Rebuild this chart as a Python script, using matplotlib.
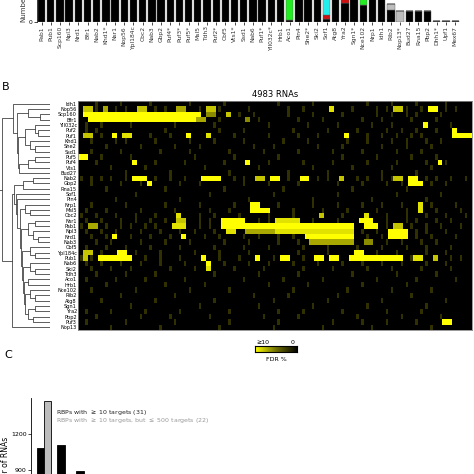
import numpy as np
import matplotlib.pyplot as plt
from matplotlib.colors import LinearSegmentedColormap

# ---- panel A data ----
a_labels = ['Pab1', 'Pub1', 'Scp160', 'Npl3', 'Nrd1', 'Bfr1', 'Nab2', 'Khd1*', 'Nsr1', 'Nop56',
            'Ypl184c', 'Cbc2', 'Nab3', 'Gbp2', 'Puf4*', 'Puf3*', 'Puf5*', 'Msl5', 'Tdh3', 'Puf2*',
            'Cbf5', 'Vts1*', 'Ssd1', 'Nab6', 'Puf1*', 'Yll032c*', 'Hrb1', 'Aco1', 'Pin4', 'She2*',
            'Ski2', 'Sof1', 'Atg8', 'Yra2', 'Sgn1*', 'Nce102', 'Nrp1', 'Idh1', 'Rib2', 'Nop13*',
            'Bud27', 'Rna15', 'Pbp2', 'Dhh1*', 'Upf1', 'Mex67']
a_black = [1000] * 27 + [15, 1000, 1000, 1000, 21, 1000, 133, 1000, 120, 1000, 1000, 83, 0,
                         78, 78, 78, 3, 3, 3]
a_green = [0] * 27 + [1000] + [0] * 7 + [1000] + [0] * 10
a_red = [0] * 31 + [29, 0, 1000] + [0] * 12
a_cyan = [0] * 31 + [1000] + [0] * 14
a_gray = [0] * 38 + [45, 78] + [0] * 6

# ---- panel B data ----
rows = ['Idh1', 'Nop56', 'Scp160', 'Bfr1', 'Yll032c', 'Puf2', 'Puf1', 'Khd1', 'She2', 'Ssd1',
        'Puf5', 'Puf4', 'Vts1', 'Bud27', 'Nab2', 'Gbp2', 'Rna15', 'Sof1', 'Pin4', 'Nrp1',
        'Msl5', 'Cbc2', 'Nsr1', 'Pab1', 'Npl3', 'Nrd1', 'Nab3', 'Cbf5', 'Ypl184c', 'Pub1',
        'Nab6', 'Ski2', 'Tdh3', 'Aco1', 'Hrb1', 'Nce102', 'Rib2', 'Atg8', 'Sgn1', 'Yra2',
        'Pbp2', 'Puf3', 'Nop13']
n_cols = 80
# bright spans: (start, end, value)
bright = {
    'Nop56': [(1, 2, 0.8), (5, 5, 0.7), (12, 13, 0.8), (20, 21, 0.7), (26, 27, 0.8), (51, 51, 0.9),
              (64, 65, 0.8), (71, 72, 1.0)],
    'Scp160': [(1, 24, 1.0), (26, 27, 0.6), (30, 30, 0.8)],
    'Bfr1': [(2, 23, 1.0), (24, 25, 0.7), (34, 34, 0.6)],
    'Yll032c': [(70, 70, 1.0)],
    'Puf2': [(76, 76, 1.0)],
    'Puf1': [(1, 2, 0.8), (7, 7, 1.0), (9, 10, 0.9), (22, 22, 1.0), (26, 26, 0.9), (54, 54, 1.0),
             (76, 79, 1.0)],
    'Puf5': [(0, 1, 1.0)],
    'Puf4': [(11, 11, 1.0), (34, 34, 1.0), (73, 73, 1.0)],
    'Nab2': [(11, 13, 1.0), (25, 28, 1.0), (36, 37, 0.8), (39, 40, 1.0), (45, 46, 1.0),
             (53, 53, 0.8), (64, 65, 0.8), (67, 68, 1.0)],
    'Gbp2': [(14, 14, 1.0), (67, 69, 1.0)],
    'Nrp1': [(35, 36, 1.0), (69, 69, 0.9)],
    'Msl5': [(35, 38, 1.0), (69, 69, 0.9)],
    'Cbc2': [(20, 20, 0.9), (49, 49, 0.8), (58, 58, 0.9)],
    'Nsr1': [(20, 21, 0.8), (29, 33, 1.0), (40, 44, 0.9), (57, 59, 1.0)],
    'Pab1': [(2, 3, 0.7), (19, 21, 0.9), (29, 55, 1.0), (58, 60, 1.0), (64, 65, 0.8)],
    'Npl3': [(30, 31, 0.9), (34, 39, 0.7), (40, 55, 0.9), (63, 66, 1.0)],
    'Nrd1': [(7, 7, 1.0), (21, 21, 1.0), (46, 55, 1.0), (63, 66, 1.0)],
    'Nab3': [(47, 55, 0.7), (58, 59, 0.6)],
    'Ypl184c': [(1, 2, 0.8), (8, 9, 1.0), (56, 57, 1.0)],
    'Pub1': [(1, 1, 0.8), (4, 10, 1.0), (25, 25, 1.0), (36, 36, 1.0), (41, 42, 1.0), (48, 49, 1.0),
             (51, 52, 1.0), (55, 62, 1.0), (63, 65, 1.0), (68, 69, 0.9), (72, 72, 0.8)],
    'Nab6': [(26, 26, 1.0)],
    'Ski2': [(26, 26, 0.9)],
    'Puf3': [(74, 75, 1.0)],
}
# faint streaks: column indices
faint = {
    'Idh1': [3, 8, 14, 22, 29, 40, 47, 58, 63, 68, 74],
    'Nop56': [3, 7, 9, 15, 17, 24, 28, 34, 42, 45, 55, 60, 62, 66, 69, 74, 76],
    'Scp160': [32, 35, 42, 47, 53, 60, 63, 66, 68, 73],
    'Bfr1': [28, 36, 44, 49, 57, 61, 67, 72],
    'Yll032c': [1, 4, 10, 19, 27, 38, 46, 52, 59, 63, 75],
    'Puf2': [1, 3, 17, 28, 33, 43, 50, 56, 62, 65, 68, 72],
    'Puf1': [4, 14, 18, 31, 38, 44, 48, 58, 61, 64, 67, 69],
    'Khd1': [2, 7, 9, 15, 22, 27, 33, 41, 46, 54, 58, 63, 66, 70, 73],
    'She2': [5, 12, 19, 24, 35, 39, 48, 53, 61, 66, 71],
    'Ssd1': [2, 8, 16, 22, 30, 37, 44, 51, 57, 64, 69],
    'Puf5': [4, 10, 23, 31, 40, 53, 60, 67, 72],
    'Puf4': [3, 15, 21, 29, 38, 45, 51, 58, 64, 70, 74],
    'Vts1': [6, 13, 25, 36, 47, 55, 63, 71],
    'Bud27': [9, 18, 30, 42, 50, 61, 68],
    'Nab2': [0, 2, 4, 6, 9, 15, 18, 21, 31, 33, 42, 48, 50, 56, 58, 61, 63, 70, 72, 75, 78],
    'Gbp2': [2, 8, 12, 20, 24, 33, 38, 44, 52, 57, 62, 65, 71, 74],
    'Rna15': [5, 17, 29, 41, 55, 66],
    'Sof1': [11, 26, 39, 52, 64, 73],
    'Pin4': [7, 20, 34, 47, 59, 70],
    'Nrp1': [2, 9, 17, 24, 31, 40, 47, 52, 57, 61, 65, 71, 76],
    'Msl5': [1, 5, 12, 19, 26, 30, 43, 49, 54, 60, 66, 72, 77],
    'Cbc2': [0, 3, 7, 11, 15, 24, 27, 32, 38, 43, 53, 62, 66, 70, 74, 78],
    'Nsr1': [1, 4, 8, 11, 14, 17, 24, 26, 36, 38, 47, 52, 62, 66, 68, 72, 75],
    'Pab1': [0, 5, 8, 10, 13, 15, 24, 26, 62, 67, 70, 73, 77],
    'Npl3': [1, 4, 7, 12, 16, 20, 23, 27, 57, 60, 68, 70, 74],
    'Nrd1': [2, 5, 10, 14, 18, 25, 28, 33, 36, 40, 43, 58, 61, 68, 71, 76],
    'Nab3': [3, 6, 12, 17, 22, 29, 34, 40, 44, 62, 65, 69, 72],
    'Cbf5': [1, 5, 9, 14, 20, 27, 33, 38, 45, 50, 56, 61, 66, 70, 75],
    'Ypl184c': [4, 11, 16, 23, 28, 34, 44, 50, 60, 64, 70, 74],
    'Pub1': [0, 2, 13, 16, 20, 28, 32, 39, 45, 67, 75, 77],
    'Nab6': [1, 4, 8, 12, 16, 21, 29, 34, 38, 43, 48, 53, 57, 61, 65, 70, 74],
    'Ski2': [2, 6, 10, 18, 23, 31, 37, 45, 51, 58, 63, 69, 75],
    'Tdh3': [3, 9, 15, 27, 36, 44, 55, 64, 72],
    'Aco1': [1, 7, 13, 21, 33, 41, 49, 60, 68, 76],
    'Hrb1': [5, 17, 25, 38, 46, 57, 66],
    'Nce102': [2, 11, 22, 30, 43, 54, 63, 71],
    'Rib2': [8, 19, 35, 42, 52, 67],
    'Atg8': [4, 15, 27, 39, 50, 61, 74],
    'Sgn1': [10, 24, 36, 47, 58, 70],
    'Yra2': [1, 6, 13, 20, 30, 40, 45, 53, 62, 69],
    'Pbp2': [3, 12, 18, 26, 37, 44, 56, 65, 73],
    'Puf3': [1, 9, 19, 30, 40, 51, 57, 62, 68],
    'Nop13': [6, 16, 28, 39, 49, 59, 71],
}
# dendrogram: (height, left, right), leaves are row indices
top_tree = (0.74, 0, (0.66, (0.45, 1, (0.2, 2, 3)),
                      (0.64, (0.5, (0.3, 4, (0.25, 5, 6)), (0.4, 7, (0.3, 8, 9))),
                       (0.62, (0.45, (0.3, 10, 11), 12), 13))))
n38 = (0.45, (0.3, 38, 39), (0.35, 40, 41))
n35 = (0.5, (0.4, 35, (0.3, 36, 37)), n38)
n33 = (0.52, (0.45, 33, 34), n35)
n30 = (0.54, (0.4, 30, (0.3, 31, 32)), n33)
n27 = (0.56, (0.4, 27, (0.3, 28, 29)), n30)
n22 = (0.58, (0.45, (0.3, 22, 23), (0.35, 24, (0.25, 25, 26))), n27)
n19 = (0.6, (0.5, 19, (0.4, 20, 21)), n22)
n17 = (0.68, 17, (0.66, 18, n19))
n14 = (0.72, (0.55, (0.35, 14, 15), 16), n17)
tree = (0.97, top_tree, (0.76, n14, 42))

# ---- panel C data ----
c_pos = [1.3, 2.3, 4.1, 6.7]
c_vals = [1080, 1480, 1110, 890]
c_cols = ['black', '#bdbdbd', 'black', 'black']

fig = plt.figure(figsize=(4.74, 4.74), dpi=100)

# panel A
axA = fig.add_axes([0.078, 0.954, 0.892, 0.3])
x = np.arange(len(a_labels))
bottom = np.zeros(len(x))
for vals, col in [(a_black, 'black'), (a_gray, '#bdbdbd'), (a_red, '#d01010'),
                  (a_green, '#22ee22'), (a_cyan, '#22eeee')]:
    v = np.array(vals, float)
    axA.bar(x, v, 0.8, bottom=bottom, color=col, edgecolor='#555555', linewidth=0.3)
    bottom += v
axA.set_xlim(-0.5, len(x) - 0.5)
axA.set_ylim(0, 1000)
axA.set_yticks([0])
axA.set_xticks(x)
axA.set_xticklabels(a_labels, rotation=90, fontsize=4.3, color='#333333')
axA.tick_params(length=2, width=0.5, pad=1, labelsize=4.3)
axA.set_ylabel('Number', fontsize=5, color='#333333', labelpad=2, loc='bottom')
for s in ['top', 'right', 'bottom']:
    axA.spines[s].set_visible(False)
axA.spines['left'].set_linewidth(0.5)

fig.text(0.005, 0.81, 'B', fontsize=8)
fig.text(0.58, 0.795, '4983 RNAs', fontsize=6, ha='center')

# panel B heatmap: each column is drawn as two sub-columns so faint streaks stay thin
mat = np.zeros((len(rows), n_cols * 2))
for name, cols in faint.items():
    i = rows.index(name)
    mat[i, [2 * c + 1 for c in cols]] = 0.22
for name, spans in bright.items():
    i = rows.index(name)
    for s, e, v in spans:
        mat[i, 2 * s:2 * e + 2] = v
cmap = LinearSegmentedColormap.from_list('fdr', ['black', '#6e6e00', '#ffff00'])
axH = fig.add_axes([0.165, 0.304, 0.83, 0.483])
axH.imshow(mat, aspect='auto', cmap=cmap, vmin=0, vmax=1, interpolation='nearest')
axH.set_xticks([])
axH.set_yticks(range(len(rows)))
axH.set_yticklabels(rows, fontsize=3.6)
axH.tick_params(length=0, pad=1)
for s in axH.spines.values():
    s.set_color('#888888')
    s.set_linewidth(0.6)

# dendrogram
axD = fig.add_axes([0.0, 0.304, 0.106, 0.483])


def draw(node):
    if isinstance(node, int):
        return node, 0.0
    h, l, r = node
    yl, hl = draw(l)
    yr, hr = draw(r)
    axD.plot([hl, h, h, hr], [yl, yl, yr, yr], color='#444444', lw=0.6)
    return (yl + yr) / 2, h


ry, rh = draw(tree)
axD.plot([rh, 1.05], [ry, ry], color='#444444', lw=0.6)
axD.set_ylim(len(rows) - 0.5, -0.5)
axD.set_xlim(1.0, 0)
axD.axis('off')

# colorbar
axC = fig.add_axes([0.538, 0.257, 0.089, 0.014])
axC.imshow(np.linspace(1, 0, 100)[None, :], aspect='auto', cmap=cmap, vmin=0, vmax=1)
axC.set_xticks([])
axC.set_yticks([])
fig.text(0.54, 0.275, '≥10', fontsize=4.5)
fig.text(0.622, 0.275, '0', fontsize=4.5, ha='right')
fig.text(0.583, 0.238, 'FDR %', fontsize=4.5, ha='center')

fig.text(0.01, 0.245, 'C', fontsize=8)

# panel C
axP = fig.add_axes([0.065, -0.219, 0.93, 0.379])
axP.bar(c_pos, c_vals, 1.0, color=c_cols, edgecolor='black', linewidth=0.6)
axP.set_xlim(0, 60)
axP.set_ylim(0, 1500)
axP.set_yticks([900, 1200])
axP.tick_params(length=2, width=0.5, labelsize=4.5, pad=1)
axP.set_xticks([])
fig.text(0.003, 0.078, 'Number of RNAs', fontsize=5.5, rotation=90, ha='left', va='top')
for s in ['top', 'right', 'bottom']:
    axP.spines[s].set_visible(False)
axP.spines['left'].set_linewidth(0.6)
axP.text(3.4, 1370, 'RBPs with $\\geq$ 10 targets (31)', fontsize=4.5, color='#222222')
axP.text(3.4, 1305, 'RBPs with $\\geq$ 10 targets, but $\\leq$ 500 targets (22)', fontsize=4.5,
         color='#999999')

fig.savefig('out.png', dpi=100)
